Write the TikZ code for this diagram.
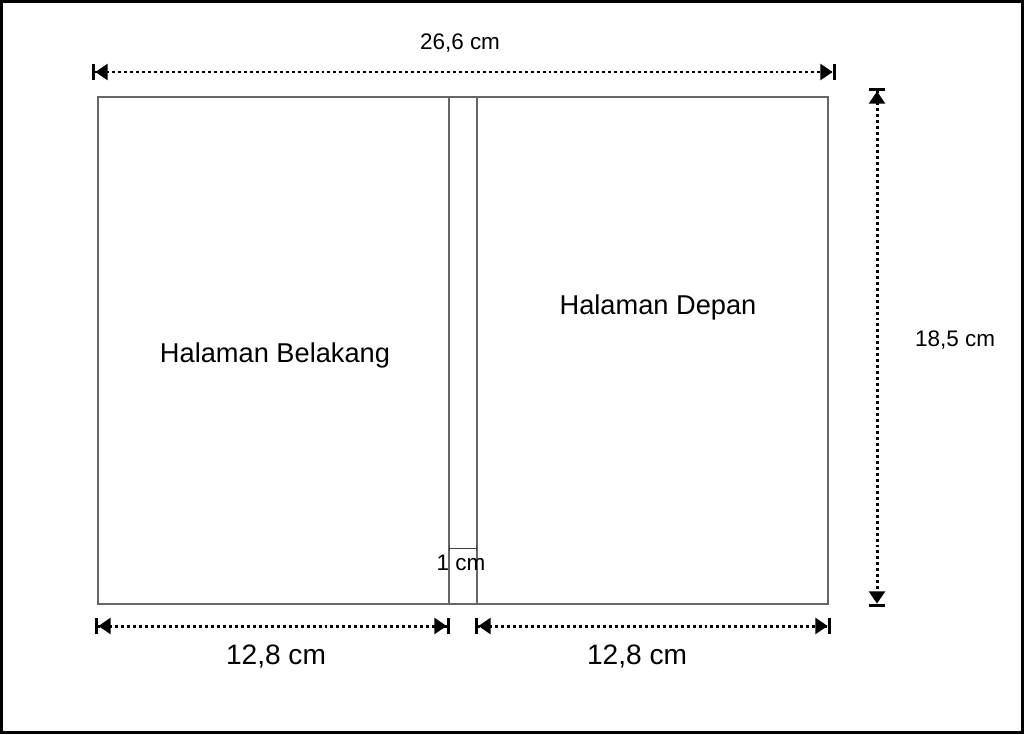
\documentclass[tikz,border=0pt]{standalone}
\usepackage{fontspec}
\setmainfont{Liberation Sans}
\usetikzlibrary{arrows.meta}

\begin{document}
\begin{tikzpicture}[x=0.02cm, y=-0.02cm, font=\normalsize]%

            \tikzstyle{page} = [ draw = black!60, line width = 0.6pt]
            \tikzstyle{dim} = [ line width = 1.7pt, dash pattern = on 1.7pt off 1.7pt, {Bar[width=9pt,line width=1.9pt]Triangle[length=7pt,width=9pt]}-{Triangle[length=7pt,width=9pt]Bar[width=9pt,line width=1.9pt]}]
            \tikzstyle{dimsmall} = [ draw = black!75, line width = 0.5pt, {Bar[width=3pt]}-{Bar[width=3pt]}]
            \tikzstyle{lbl} = [ inner sep = 0pt, font = \fontsize{12.8}{15}\selectfont]
            \tikzstyle{lblbig} = [ inner sep = 0pt, font = \fontsize{16}{19}\selectfont]
            \tikzstyle{title} = [ inner sep = 0pt, font = \fontsize{15.5}{18}\selectfont]
        %%
            \useasboundingbox (0,0) rectangle (1024,734);
            \draw [line width = 1.7pt] (1.5,1.5) rectangle (1022.5,732.5);

            %% Pages and spine
            \coordinate (back_tl) at (98,97);
            \coordinate (spine_l) at (449,604);
            \coordinate (spine_tr) at (477,97);
            \coordinate (front_br) at (828,604);

            \draw [page] (back_tl) rectangle (spine_l);
            \draw [page] (spine_l) rectangle (spine_tr);
            \draw [page] (spine_tr) rectangle (front_br);

            \node [title] (belakang) at (275,355) {Halaman Belakang};
            \node [title] (depan) at (658,307) {Halaman Depan};

            %% Dimension lines
            \coordinate (top_l) at (92,72);
            \coordinate (top_r) at (836,72);
            \coordinate (right_t) at (877,88);
            \coordinate (right_b) at (877,607);
            \coordinate (botl_l) at (95,626);
            \coordinate (botl_r) at (450,626);
            \coordinate (botr_l) at (475,626);
            \coordinate (botr_r) at (831,626);
            \coordinate (spine_dl) at (449,548);
            \coordinate (spine_dr) at (477,548);

            \draw [dim] (top_l) -- (top_r);
            \draw [dim] (right_t) -- (right_b);
            \draw [dim] (botl_l) -- (botl_r);
            \draw [dim] (botr_l) -- (botr_r);
            \draw [dimsmall] (spine_dl) -- (spine_dr);

            %% Labels
            \node [lbl] (w_total) at (460,43) {26,6 cm};
            \node [lbl] (h_total) at (955,340) {18,5 cm};
            \node [lblbig] (w_back) at (276,656) {12,8 cm};
            \node [lblbig] (w_front) at (637,656) {12,8 cm};
            \node [lbl] (w_spine) at (461,563) {1 cm};
\end{tikzpicture}
\end{document}
